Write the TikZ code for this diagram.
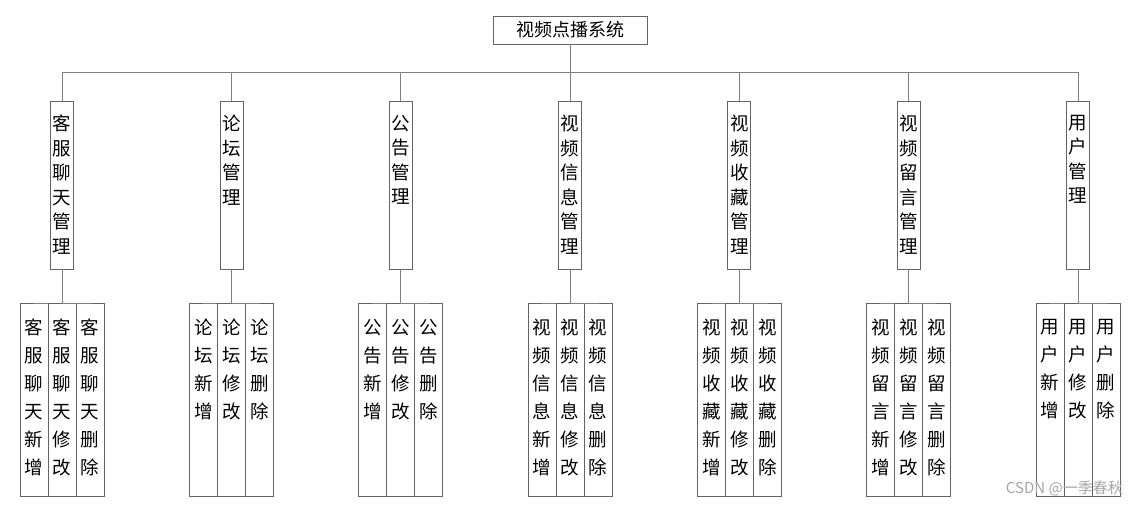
\documentclass[tikz,border=0pt]{standalone}
\usepackage{fontspec}
\setmainfont{Noto Sans CJK SC}
\usepackage{tikz}
\usetikzlibrary{calc, positioning}
\usepackage{xcolor}
\definecolor{lineGray}{RGB}{128, 128, 128}
\definecolor{boxGray}{RGB}{100, 100, 100}
\newcommand{\modText}[1]{\parbox[c][168pt][t]{23pt}{\centering\vspace*{14pt}#1}}
\newcommand{\leafText}[1]{\parbox[c][193pt][t]{28pt}{\centering\vspace*{16pt}#1}}

\begin{document}
\begin{tikzpicture}[x=1pt, y=1pt,
  edge from parent/.style={draw=lineGray, line width=0.8pt},
  rootbox/.style={draw=boxGray, line width=0.8pt, minimum width=154pt, minimum height=28pt,
    inner sep=0pt, font=\fontsize{18}{22}\selectfont},
  modbox/.style={draw=boxGray, line width=0.8pt, inner sep=0pt, font=\fontsize{18.5}{24.5}\selectfont},
  leafbox/.style={draw=boxGray, line width=0.8pt, inner sep=0pt, font=\fontsize{18.5}{28}\selectfont},
  level 1/.style={sibling distance=169.3pt, level distance=155pt,
    edge from parent path={(\tikzparentnode.south) -- ++(0,-28) -| (\tikzchildnode.north)}},
  level 2/.style={sibling distance=28pt, level distance=214.5pt,
    edge from parent path={(\tikzparentnode.south) -- ++(0,-34) -| (\tikzchildnode.north)}}]
  \useasboundingbox (0,0) rectangle (1139,-506);
  \node[rootbox] (sys) at (570,-30) {视频点播系统}
    child { node[modbox] (kefu) {\modText{客\\服\\聊\\天\\管\\理}}
      child { node[leafbox] (kefuAdd) {\leafText{客\\服\\聊\\天\\新\\增}} }
      child { node[leafbox] (kefuEdit) {\leafText{客\\服\\聊\\天\\修\\改}} }
      child { node[leafbox] (kefuDel) {\leafText{客\\服\\聊\\天\\删\\除}} }
    }
    child { node[modbox] (luntan) {\modText{论\\坛\\管\\理}}
      child { node[leafbox] (luntanAdd) {\leafText{论\\坛\\新\\增}} }
      child { node[leafbox] (luntanEdit) {\leafText{论\\坛\\修\\改}} }
      child { node[leafbox] (luntanDel) {\leafText{论\\坛\\删\\除}} }
    }
    child { node[modbox] (gonggao) {\modText{公\\告\\管\\理}}
      child { node[leafbox] (gonggaoAdd) {\leafText{公\\告\\新\\增}} }
      child { node[leafbox] (gonggaoEdit) {\leafText{公\\告\\修\\改}} }
      child { node[leafbox] (gonggaoDel) {\leafText{公\\告\\删\\除}} }
    }
    child { node[modbox] (xinxi) {\modText{视\\频\\信\\息\\管\\理}}
      child { node[leafbox] (xinxiAdd) {\leafText{视\\频\\信\\息\\新\\增}} }
      child { node[leafbox] (xinxiEdit) {\leafText{视\\频\\信\\息\\修\\改}} }
      child { node[leafbox] (xinxiDel) {\leafText{视\\频\\信\\息\\删\\除}} }
    }
    child { node[modbox] (shoucang) {\modText{视\\频\\收\\藏\\管\\理}}
      child { node[leafbox] (shoucangAdd) {\leafText{视\\频\\收\\藏\\新\\增}} }
      child { node[leafbox] (shoucangEdit) {\leafText{视\\频\\收\\藏\\修\\改}} }
      child { node[leafbox] (shoucangDel) {\leafText{视\\频\\收\\藏\\删\\除}} }
    }
    child { node[modbox] (liuyan) {\modText{视\\频\\留\\言\\管\\理}}
      child { node[leafbox] (liuyanAdd) {\leafText{视\\频\\留\\言\\新\\增}} }
      child { node[leafbox] (liuyanEdit) {\leafText{视\\频\\留\\言\\修\\改}} }
      child { node[leafbox] (liuyanDel) {\leafText{视\\频\\留\\言\\删\\除}} }
    }
    child { node[modbox] (yonghu) {\modText{用\\户\\管\\理}}
      child { node[leafbox] (yonghuAdd) {\leafText{用\\户\\新\\增}} }
      child { node[leafbox] (yonghuEdit) {\leafText{用\\户\\修\\改}} }
      child { node[leafbox] (yonghuDel) {\leafText{用\\户\\删\\除}} }
    };
  % watermark
  \node[anchor=east, inner sep=0pt, text=gray!70, font=\fontsize{15}{15}\selectfont] (mark) at (1123,-488) {CSDN @一季春秋};
\end{tikzpicture}
\end{document}
